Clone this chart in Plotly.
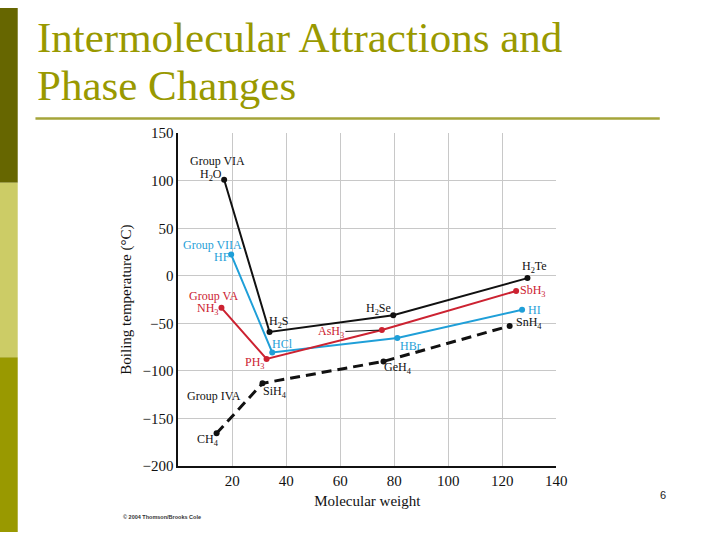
import plotly.graph_objects as go

# boiling points of the hydrides
via_names = ["H<sub>2</sub>O", "H<sub>2</sub>S", "H<sub>2</sub>Se", "H<sub>2</sub>Te"]
via_mw = [17, 33.8, 79.6, 129.3]
via_bp = [101, -59, -41.5, -2.4]

viia_names = ["HF", "HCl", "HBr", "HI"]
viia_mw = [19.6, 34.8, 81.1, 127.3]
viia_bp = [22.4, -80.6, -65.3, -35.7]

va_names = ["NH<sub>3</sub>", "PH<sub>3</sub>", "AsH<sub>3</sub>", "SbH<sub>3</sub>"]
va_mw = [16, 32.7, 75.4, 125.1]
va_bp = [-33.7, -87.4, -57, -16]

iva_names = ["CH<sub>4</sub>", "SiH<sub>4</sub>", "GeH<sub>4</sub>", "SnH<sub>4</sub>"]
iva_mw = [14.2, 31.2, 76, 122.7]
iva_bp = [-165.6, -113, -90, -52.7]

x_ticks = [20, 40, 60, 80, 100, 120, 140]
y_ticks = [-200, -150, -100, -50, 0, 50, 100, 150]

BLACK = "#111111"
CYAN = "#1f9fd8"
RED = "#cc2231"
OLIVE = "#999900"
SERIF = "Liberation Serif"

fig = go.Figure()

groups = [
    (iva_mw, iva_bp, BLACK, "dash"),
    (via_mw, via_bp, BLACK, "solid"),
    (viia_mw, viia_bp, CYAN, "solid"),
    (va_mw, va_bp, RED, "solid"),
]
for mw, bp, col, dash in groups:
    fig.add_trace(go.Scatter(
        x=mw, y=bp, mode="lines+markers",
        line=dict(color=col, width=3 if dash == "dash" else 2,
                  dash="10px,6px" if dash == "dash" else "solid"),
        marker=dict(color=col, size=6),
        showlegend=False, hoverinfo="skip"
    ))

# label offsets in pixels (dx, dy up), per point
via_off = [(-13, 5), (9, 10), (-15, 6), (7, 11)]
viia_off = [(-9, -2), (10, 8), (13, -8), (12, 0)]
va_off = [(-13, -1), (-12, -4), None, (17, 0)]
iva_off = [(-9, -7), (12, -9), (14, -7), (19, 3)]

annos = []
for names, mw, bp, offs, col in [
    (via_names, via_mw, via_bp, via_off, BLACK),
    (viia_names, viia_mw, viia_bp, viia_off, CYAN),
    (va_names, va_mw, va_bp, va_off, RED),
    (iva_names, iva_mw, iva_bp, iva_off, BLACK),
]:
    for n, x, y, off in zip(names, mw, bp, offs):
        if off is None:
            # AsH3 has a leader line
            annos.append(dict(x=x, y=y, text=n, showarrow=True, arrowhead=0,
                              arrowwidth=1, arrowcolor=BLACK, ax=-51, ay=2,
                              standoff=3, font=dict(family=SERIF, size=12, color=col)))
            continue
        annos.append(dict(x=x, y=y, text=n, showarrow=False, xshift=off[0], yshift=off[1],
                          font=dict(family=SERIF, size=12, color=col)))

# group labels
for txt, x, y, dx, dy, col in [
    ("Group VIA", via_mw[0], via_bp[0], -7, 19, BLACK),
    ("Group VIIA", viia_mw[0], viia_bp[0], -19, 10, CYAN),
    ("Group VA", va_mw[0], va_bp[0], -7, 12, RED),
    ("Group IVA", iva_mw[0], iva_bp[0], -3, 37, BLACK),
]:
    annos.append(dict(x=x, y=y, text=txt, showarrow=False, xshift=dx, yshift=dy,
                      font=dict(family=SERIF, size=12, color=col)))

# slide title and footer
annos.append(dict(xref="paper", yref="paper", x=0.05, y=0.895, xanchor="left", yanchor="bottom",
                  text="Intermolecular Attractions and", showarrow=False,
                  font=dict(family=SERIF, size=43, color=OLIVE)))
annos.append(dict(xref="paper", yref="paper", x=0.05, y=0.803, xanchor="left", yanchor="bottom",
                  text="Phase Changes", showarrow=False,
                  font=dict(family=SERIF, size=43, color=OLIVE)))
annos.append(dict(xref="paper", yref="paper", x=0.935, y=0.07, xanchor="center", yanchor="middle",
                  text="6", showarrow=False,
                  font=dict(family="Liberation Sans", size=11, color="#222222")))
annos.append(dict(xref="paper", yref="paper", x=0.17, y=0.029, xanchor="left", yanchor="middle",
                  text="<b>© 2004 Thomson/Brooks Cole</b>", showarrow=False,
                  font=dict(family="Liberation Sans", size=5.5, color="#333333")))

shapes = [
    dict(type="rect", xref="paper", yref="paper", x0=0, x1=18 / 720, y0=1 - 180 / 540, y1=1,
         fillcolor="#666600", line=dict(width=0), layer="below"),
    dict(type="rect", xref="paper", yref="paper", x0=0, x1=18 / 720, y0=1 - 360 / 540, y1=1 - 180 / 540,
         fillcolor="#cccc66", line=dict(width=0), layer="below"),
    dict(type="rect", xref="paper", yref="paper", x0=0, x1=18 / 720, y0=0, y1=1 - 360 / 540,
         fillcolor="#999900", line=dict(width=0), layer="below"),
    dict(type="line", xref="paper", yref="paper", x0=36 / 720, x1=670 / 720,
         y0=1 - 114 / 540, y1=1 - 114 / 540, line=dict(color="#a5a53a", width=2.5)),
]

fig.update_layout(
    width=720, height=540,
    margin=dict(l=0, r=0, t=0, b=0),
    plot_bgcolor="white", paper_bgcolor="white",
    annotations=annos, shapes=shapes,
    xaxis=dict(
        domain=[181 / 720, 565 / 720], range=[0, 140],
        tickvals=x_ticks, ticks="", showgrid=True, gridcolor="#c8c8c8", gridwidth=1,
        showline=True, linecolor=BLACK, linewidth=1.5, zeroline=False,
        tickfont=dict(family=SERIF, size=15, color=BLACK),
        title=dict(text="Molecular weight", font=dict(family=SERIF, size=15, color=BLACK), standoff=8),
    ),
    yaxis=dict(
        domain=[1 - 472 / 540, 1 - 129 / 540], range=[-200, 150],
        tickvals=y_ticks, ticks="", showgrid=True, gridcolor="#c8c8c8", gridwidth=1,
        showline=True, linecolor=BLACK, linewidth=1.5, zeroline=False,
        tickfont=dict(family=SERIF, size=15, color=BLACK),
        title=dict(text="Boiling temperature (°C)", font=dict(family=SERIF, size=15, color=BLACK), standoff=7),
    ),
)

# drop the page's default body margin so the 720x540 figure fills the window
fig.write_html("out.html", config={"displayModeBar": False},
               post_script="document.body.style.margin='0';document.body.style.overflow='hidden';")
